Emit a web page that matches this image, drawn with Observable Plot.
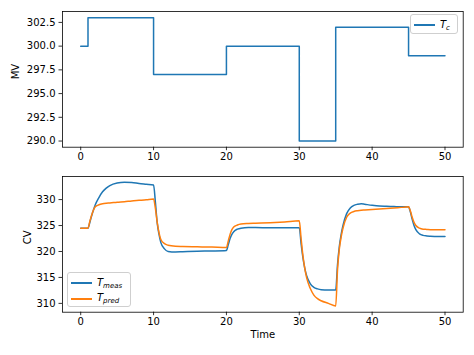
<!DOCTYPE html>
<html><head><meta charset="utf-8">
<script src="https://cdn.jsdelivr.net/npm/d3@7"></script>
<script src="https://cdn.jsdelivr.net/npm/@observablehq/plot@0.6"></script>
<style>
body{margin:0;background:#fff;}
#chart{position:relative;width:474px;height:355px;font-family:"DejaVu Sans",sans-serif;}
#chart svg{display:block;}
.legend{position:absolute;background:rgba(255,255,255,0.8);border:1px solid #cfcfcf;border-radius:3px;box-sizing:border-box;}
.row{position:absolute;left:0;height:14px;display:flex;align-items:center;font-size:10px;font-style:italic;white-space:nowrap;}
.sw{display:inline-block;width:21px;height:2px;margin-left:3px;margin-right:5px;}
.row sub{font-size:7px;vertical-align:-2px;}
</style>
</head><body>
<div id="chart"></div>
<script>
const mvTime = [0, 1, 10, 20, 30, 35, 45, 50];
const mvValue = [300, 303, 297, 300, 290, 302, 299, 299];

const cvTime = [0, 1, 1.25, 1.5, 1.75, 2, 2.5, 3, 3.5, 4, 5, 6, 7, 8, 9, 10,
  10.25, 10.5, 10.75, 11, 11.5, 12, 13, 14, 16, 18, 20,
  20.25, 20.5, 20.75, 21, 21.5, 22, 23, 24, 26, 28, 30,
  30.25, 30.5, 30.75, 31, 31.5, 32, 32.5, 33, 34, 35,
  35.25, 35.5, 35.75, 36, 36.5, 37, 37.5, 38, 38.5, 39, 40, 41, 42, 43, 44, 45,
  45.25, 45.5, 45.75, 46, 46.5, 47, 47.5, 48, 49, 50];
const tMeas = [324.5, 324.5, 325.6, 326.9, 328.0, 329.0, 330.4, 331.5, 332.2, 332.7, 333.2, 333.35, 333.3, 333.1, 332.95, 332.8,
  329.5, 325.5, 323.3, 321.7, 320.5, 320.0, 319.9, 319.95, 320.05, 320.1, 320.2,
  321.3, 322.5, 323.3, 323.8, 324.3, 324.5, 324.6, 324.6, 324.55, 324.55, 324.55,
  321.5, 318.8, 316.8, 315.4, 313.8, 313.1, 312.8, 312.65, 312.6, 312.6,
  317.5, 321.0, 323.3, 325.0, 327.3, 328.4, 328.9, 329.1, 329.2, 329.1, 328.9, 328.75, 328.7, 328.65, 328.6, 328.6,
  327.6, 326.2, 325.0, 324.2, 323.4, 323.1, 323.0, 322.95, 322.9, 322.9];
const tPred = [324.5, 324.5, 325.8, 327.0, 328.0, 328.6, 329.0, 329.2, 329.3, 329.35, 329.5, 329.6, 329.75, 329.85, 329.95, 330.1,
  328.3, 325.6, 323.6, 322.3, 321.5, 321.2, 321.0, 320.95, 320.9, 320.85, 320.75,
  322.0, 323.3, 324.2, 324.7, 325.1, 325.3, 325.4, 325.45, 325.55, 325.7, 325.9,
  322.5, 319.2, 316.8, 315.0, 312.9, 311.6, 310.9, 310.5, 310.0, 309.5,
  316.5, 320.5, 322.8, 324.5, 326.6, 327.4, 327.7, 327.85, 327.95, 328.0, 328.1, 328.2, 328.3, 328.4, 328.5, 328.6,
  327.8, 326.6, 325.6, 325.0, 324.5, 324.3, 324.25, 324.2, 324.2, 324.2];

const xTicks = [0, 10, 20, 30, 40, 50];
const mvTicks = [290, 292.5, 295, 297.5, 300, 302.5];
const cvTicks = [310, 315, 320, 325, 330];

const blue = "#1f77b4", orange = "#ff7f0e";
const mvData = mvTime.map((t, i) => ({t, v: mvValue[i]}));
const measData = cvTime.map((t, i) => ({t, v: tMeas[i]}));
const predData = cvTime.map((t, i) => ({t, v: tPred[i]}));

const style = {fontFamily: "DejaVu Sans", fontSize: "10px", color: "#000", background: "#fff", overflow: "visible"};
const W = 474, mL = 62, mR = 11.3;

const mvPlot = Plot.plot({
  width: W, height: 165, marginTop: 11, marginBottom: 18.3, marginLeft: mL, marginRight: mR,
  style,
  x: {domain: [-2.5, 52.5]},
  y: {domain: [289.35, 303.65]},
  marks: [
    Plot.line(mvData, {x: "t", y: "v", curve: "step-after", stroke: blue, strokeWidth: 1.5}),
    Plot.frame({stroke: "#000", strokeWidth: 0.8}),
    Plot.axisX({ticks: xTicks, tickSize: 3.5, tickPadding: 2.5, label: null, strokeWidth: 0.8}),
    Plot.axisY({ticks: mvTicks, tickFormat: d3.format(".1f"), tickSize: 3.5, tickPadding: 3.5, label: null, strokeWidth: 0.8}),
    Plot.text(["MV"], {text: d => d, frameAnchor: "left", dx: -47, rotate: -90, fontSize: 10})
  ]
});

const cvPlot = Plot.plot({
  width: W, height: 190, marginTop: 11, marginBottom: 43.3, marginLeft: mL, marginRight: mR,
  style,
  x: {domain: [-2.5, 52.5]},
  y: {domain: [308.3, 334.45]},
  marks: [
    Plot.line(measData, {x: "t", y: "v", curve: "monotone-x", stroke: blue, strokeWidth: 1.5}),
    Plot.line(predData, {x: "t", y: "v", curve: "monotone-x", stroke: orange, strokeWidth: 1.5}),
    Plot.frame({stroke: "#000", strokeWidth: 0.8}),
    Plot.axisX({ticks: xTicks, tickSize: 3.5, tickPadding: 2.5, label: null, strokeWidth: 0.8}),
    Plot.axisY({ticks: cvTicks, tickSize: 3.5, tickPadding: 3.5, label: null, strokeWidth: 0.8}),
    Plot.text(["CV"], {text: d => d, frameAnchor: "left", dx: -35, rotate: -90, fontSize: 10}),
    Plot.text(["Time"], {text: d => d, frameAnchor: "bottom", dy: 25.3, fontSize: 10})
  ]
});

const chart = document.getElementById("chart");
chart.appendChild(mvPlot);
chart.appendChild(cvPlot);

function legend(left, topPx, width, height, items) {
  const box = document.createElement("div");
  box.className = "legend";
  Object.assign(box.style, {left: left + "px", top: topPx + "px", width: width + "px", height: height + "px"});
  items.forEach((it, i) => {
    const row = document.createElement("div");
    row.className = "row";
    row.style.top = (3 + i * 15.5) + "px";
    row.innerHTML = `<span class="sw" style="background:${it.color}"></span><span>T<sub>${it.sub}</sub></span>`;
    box.appendChild(row);
  });
  chart.appendChild(box);
}
legend(410, 14, 48, 20, [{color: blue, sub: "c"}]);
legend(67, 272, 64, 35, [{color: blue, sub: "meas"}, {color: orange, sub: "pred"}]);
</script>
</body></html>
